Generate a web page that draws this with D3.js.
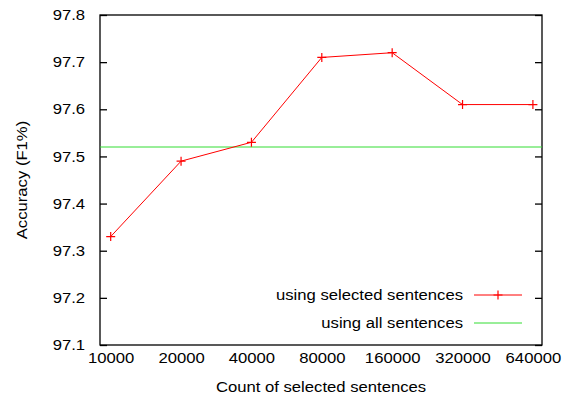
<!DOCTYPE html>
<html><head><meta charset="utf-8">
<script src="https://cdn.jsdelivr.net/npm/d3@7"></script>
<style>
body{margin:0;background:#fff;}
text{font-family:"Liberation Sans",Arial,sans-serif;}
</style></head>
<body><svg id="c" width="568" height="398"></svg>
<script>
const counts = [10000, 20000, 40000, 80000, 160000, 320000, 640000];
const selectedAcc = [97.33, 97.49, 97.53, 97.71, 97.72, 97.61, 97.61];
const allAcc = 97.52;
const yTicks = [97.1, 97.2, 97.3, 97.4, 97.5, 97.6, 97.7, 97.8];
const xTickLabels = ["10000","20000","40000","80000","160000","320000","640000"];
const seriesNames = ["using selected sentences", "using all sentences"];

const svg = d3.select("#c");
const L = 100, R = 542, T = 15, B = 345;
const x = d3.scaleLog().base(2).domain([9000, 700000]).range([L, R]);
const y = d3.scaleLinear().domain([97.1, 97.8]).range([B, T]);
const fs = 14.5, sx = 1.15;
const wide = sel => sel.attr("font-size", fs).attr("fill", "#000")
  .attr("font-family", "Liberation Sans, Arial, sans-serif").attr("transform", `scale(${sx},1)`);

// frame
svg.append("rect").attr("x", L).attr("y", T).attr("width", R - L).attr("height", B - T)
  .attr("fill", "none").attr("stroke", "#000").attr("stroke-width", 1.3);

// left axis
const yl = svg.append("g").attr("transform", `translate(${L},0)`)
  .call(d3.axisLeft(y).tickValues(yTicks).tickFormat(d3.format(".1f")).tickSizeInner(-7).tickSizeOuter(0).tickPadding(13));
yl.select(".domain").remove();
yl.selectAll("line").attr("stroke", "#000").attr("stroke-width", 1.3);
yl.selectAll("text").call(wide);

// right ticks
const yr = svg.append("g").attr("transform", `translate(${R},0)`)
  .call(d3.axisRight(y).tickValues(yTicks).tickFormat("").tickSizeInner(-7).tickSizeOuter(0));
yr.select(".domain").remove();
yr.selectAll("line").attr("stroke", "#000").attr("stroke-width", 1.3);

// bottom axis labels
const xb = svg.append("g").attr("transform", `translate(0,${B})`)
  .call(d3.axisBottom(x).tickValues(counts).tickFormat((d, i) => xTickLabels[i]).tickSize(0).tickPadding(8));
xb.select(".domain").remove();
xb.selectAll("text").call(wide);

// axis titles
svg.append("g").attr("transform", `translate(${(L + R) / 2},392)`)
  .append("text").attr("text-anchor", "middle").call(wide).text("Count of selected sentences");
svg.append("g").attr("transform", `translate(27,${(T + B) / 2}) rotate(-90)`)
  .append("text").attr("text-anchor", "middle").call(wide).text("Accuracy (F1%)");

// green line
const green = "#33dd33", red = "#ff0000";
svg.append("line").attr("x1", L).attr("x2", R).attr("y1", y(allAcc)).attr("y2", y(allAcc))
  .attr("stroke", green).attr("stroke-width", 1);

// red series
const pts = counts.map((c, i) => [x(c), y(selectedAcc[i])]);
svg.append("path").attr("d", d3.line()(pts)).attr("fill", "none").attr("stroke", red).attr("stroke-width", 1);
const plus = (g, cx, cy) => {
  g.append("path").attr("d", `M${cx-4.5},${cy}H${cx+4.5}M${cx},${cy-4.5}V${cy+4.5}`)
    .attr("stroke", red).attr("stroke-width", 1.2);
};
pts.forEach(p => plus(svg, p[0], p[1]));

// legend
const lx1 = 474, lx2 = 522, ly1 = 295, ly2 = 323;
svg.append("g").attr("transform", `translate(463,${ly1})`)
  .append("text").attr("dy", "0.35em").attr("text-anchor", "end").call(wide).text(seriesNames[0]);
svg.append("line").attr("x1", lx1).attr("x2", lx2).attr("y1", ly1).attr("y2", ly1).attr("stroke", red);
plus(svg, (lx1 + lx2) / 2, ly1);
svg.append("g").attr("transform", `translate(463,${ly2})`)
  .append("text").attr("dy", "0.35em").attr("text-anchor", "end").call(wide).text(seriesNames[1]);
svg.append("line").attr("x1", lx1).attr("x2", lx2).attr("y1", ly2).attr("y2", ly2).attr("stroke", green);
</script></body></html>
